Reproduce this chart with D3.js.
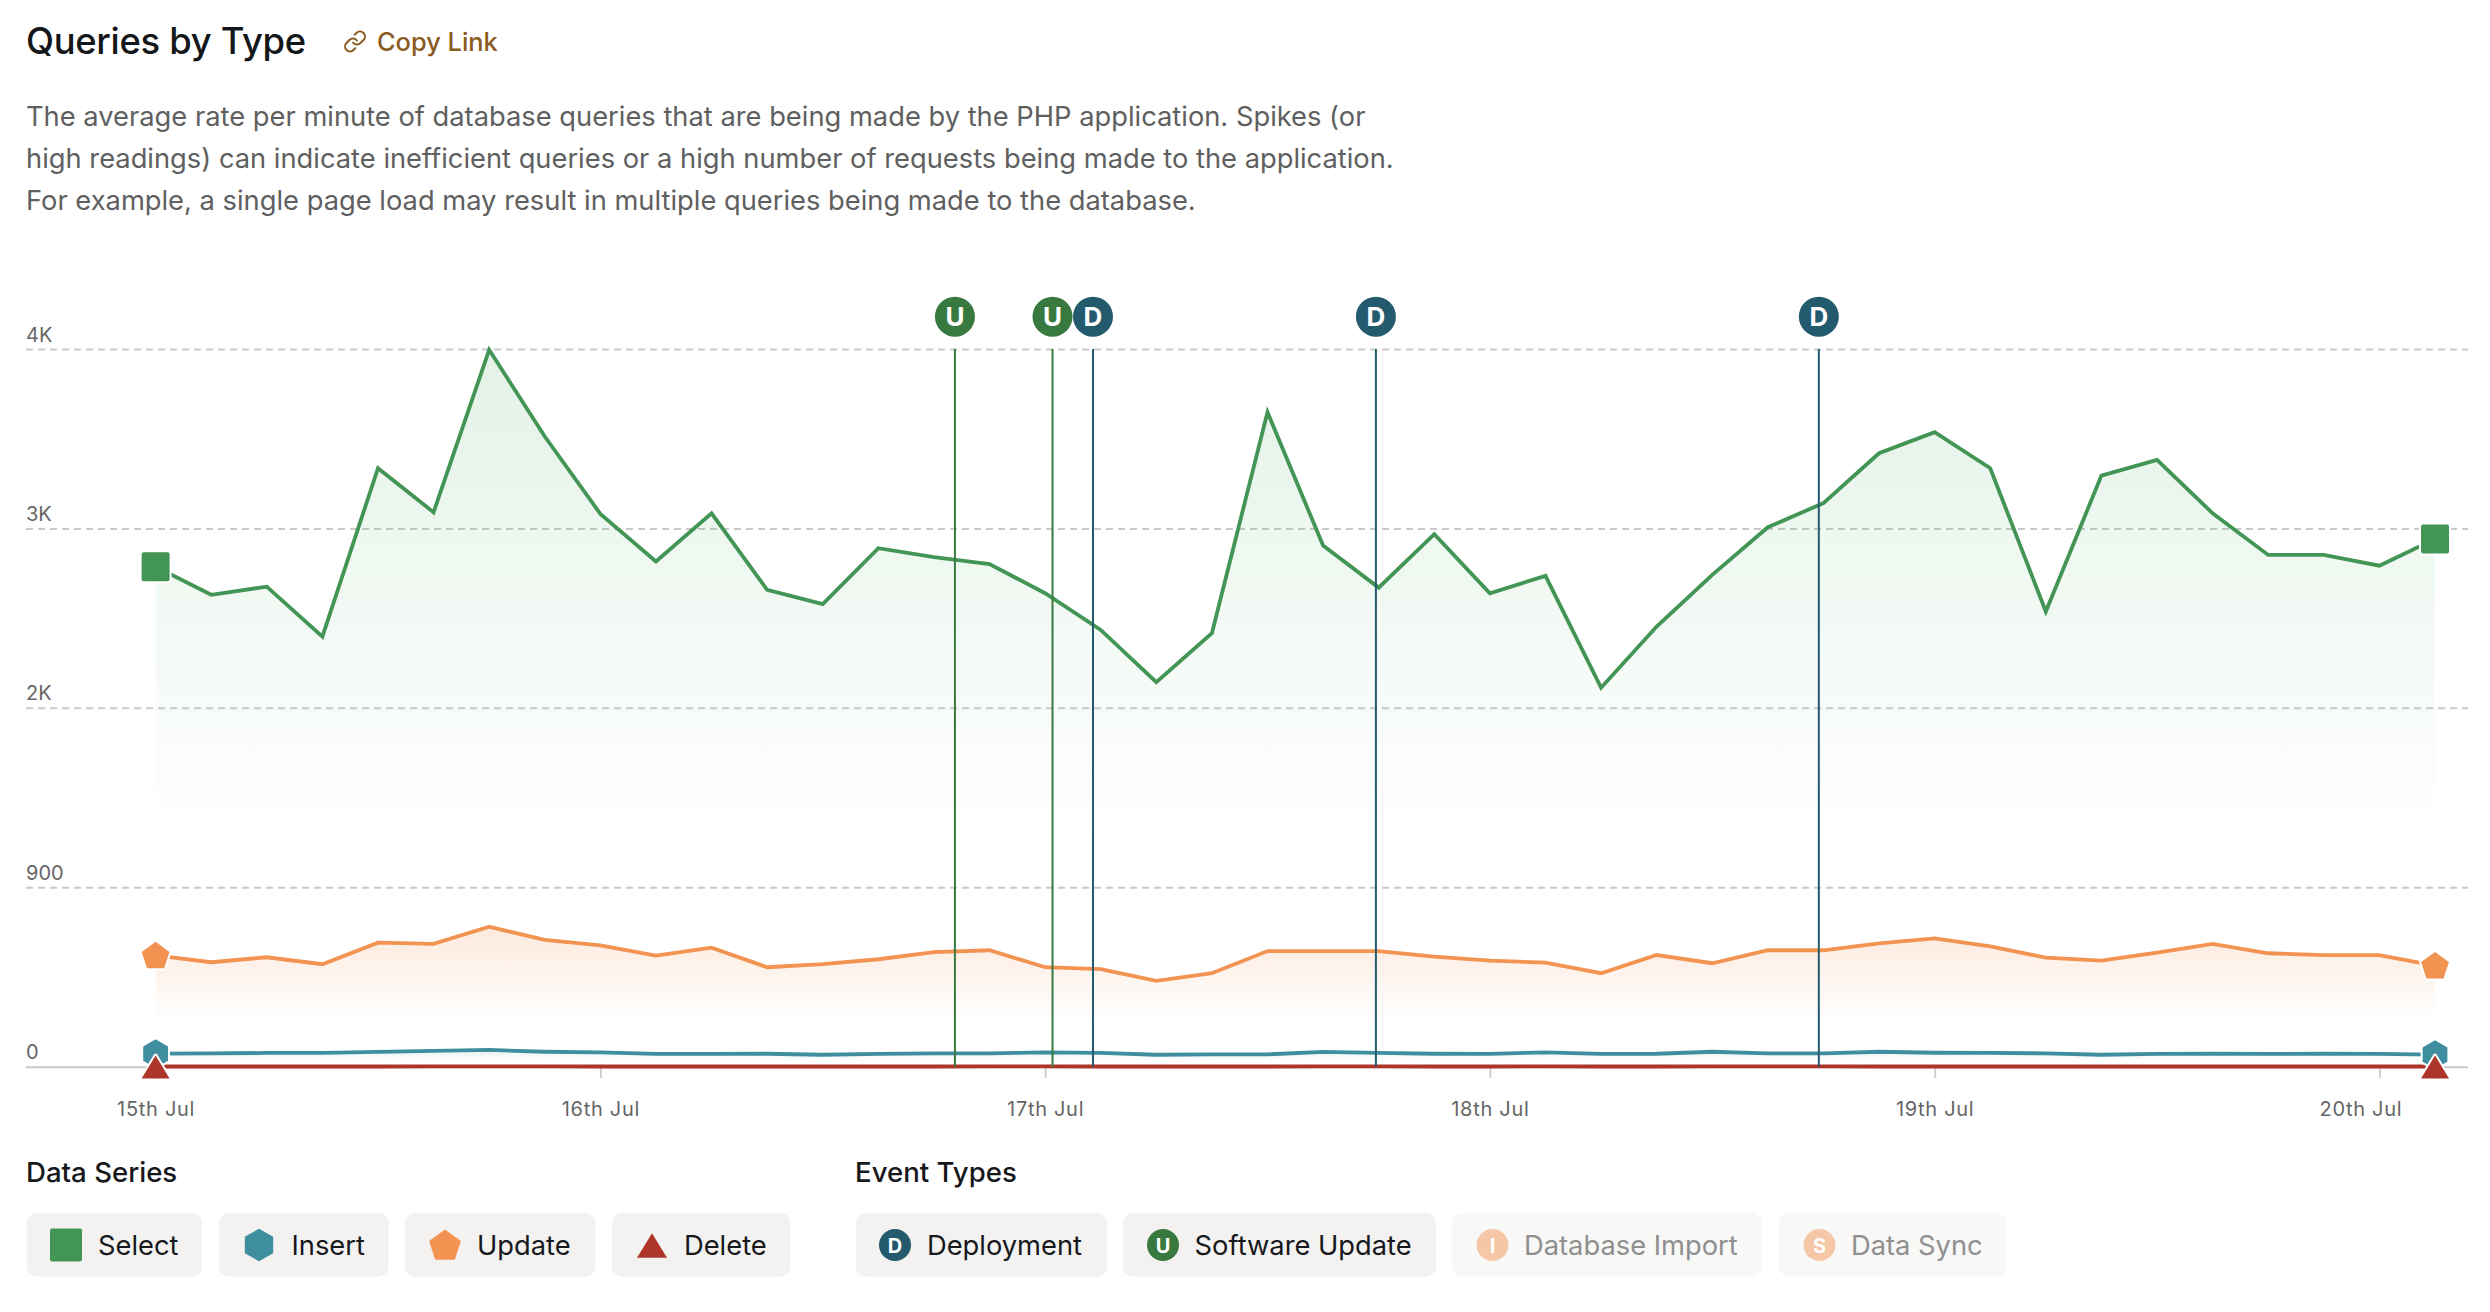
<!DOCTYPE html>
<html><head><meta charset="utf-8">
<script src="https://cdn.jsdelivr.net/npm/d3@7"></script>
<style>
html,body{margin:0;padding:0;background:#fff}
svg{display:block}
text{font-family:Inter,"Noto Sans",sans-serif}
</style></head>
<body>
<svg id="c" width="2490" height="1312"></svg>
<script>
const startTime = "2024-07-15T00:00:00Z";
const stepHours = 3;
const selectValues = [2508,2367,2408,2157,3002,2781,3596,3161,2773,2534,2776,2392,2320,2601,2556,2521,2375,2191,1929,2174,3283,2614,2403,2671,2375,2462,1901,2208,2467,2706,2827,3077,3183,3002,2283,2965,3044,2776,2567,2567,2513,2647];
const insertValues = [66,67,69,69,74,79,84,75,72,64,64,65,60,64,67,67,72,69,60,62,62,74,69,65,64,72,64,65,75,67,67,75,70,69,67,60,64,65,64,65,64,61];
const updateValues = [558,524,549,514,622,616,702,636,609,557,597,499,515,539,575,584,499,489,431,469,580,580,580,552,532,522,469,560,519,584,584,619,644,603,547,532,572,616,569,560,560,507];
const deleteValues = [1,1,1,1,1,2,2,2,1,1,1,1,1,1,1,2,2,1,1,1,1,2,2,1,1,2,1,1,2,2,2,1,1,1,1,1,1,1,1,1,1,1];
const yTicks = [0,900,1800,2700,3600];
const yTickLabels = ["0","900","2K","3K","4K"];
const xTickDays = ["2024-07-15","2024-07-16","2024-07-17","2024-07-18","2024-07-19","2024-07-20"];
const xTickLabels = ["15th Jul","16th Jul","17th Jul","18th Jul","19th Jul","20th Jul"];
const eventTimes = ["2024-07-16T19:08:00Z","2024-07-17T00:24:00Z","2024-07-17T02:35:00Z","2024-07-17T17:51:00Z","2024-07-18T17:45:00Z"];
const eventKinds = ["U","U","D","D","D"];
const seriesNames = ["Select","Insert","Update","Delete"];
const eventTypeNames = ["Deployment","Software Update","Database Import","Data Sync"];
const paragraphLines = [
 "The average rate per minute of database queries that are being made by the PHP application. Spikes (or",
 "high readings) can indicate inefficient queries or a high number of requests being made to the application.",
 "For example, a single page load may result in multiple queries being made to the database."];

const GREEN="#439556",TEAL="#3f8ea0",ORANGE="#f29352",RED="#ae352a",DGREEN="#38793f",DBLUE="#245a6e";
const svg=d3.select("#c");
const dates=selectValues.map((_,i)=>new Date(+new Date(startTime)+i*stepHours*3600e3));
const x=d3.scaleUtc().domain([dates[0],dates[dates.length-1]]).range([155.6,2435]);
const y=d3.scaleLinear().domain([0,3600]).range([1066.7,349]);

// header
svg.append("text").attr("x",26).attr("y",54).attr("font-size",36.4).attr("font-weight",500).attr("fill","#14171a").attr("letter-spacing","-0.3").text("Queries by Type");
const icon=svg.append("g").attr("transform","translate(343,29.5) scale(1)").attr("fill","none").attr("stroke","#8a5a1e").attr("stroke-width",2).attr("stroke-linecap","round").attr("stroke-linejoin","round");
icon.append("path").attr("d","M10 13a5 5 0 0 0 7.54.54l3-3a5 5 0 0 0-7.07-7.07l-1.72 1.71");
icon.append("path").attr("d","M14 11a5 5 0 0 0-7.54-.54l-3 3a5 5 0 0 0 7.07 7.07l1.71-1.71");
svg.append("text").attr("x",377).attr("y",51).attr("font-size",25.4).attr("font-weight",500).attr("fill","#8a5a1e").text("Copy Link");
svg.selectAll("text.p").data(paragraphLines).join("text").attr("class","p").attr("x",26).attr("y",(d,i)=>126+i*42).attr("font-size",27.3).attr("fill","#605f5f").text(d=>d);

// gradients
const defs=svg.append("defs");
[["g0","#44a85f",.15],["g1",TEAL,.12],["g2",ORANGE,.2],["g3",RED,.1]].forEach(([id,c,o])=>{
  const g=defs.append("linearGradient").attr("id",id).attr("x1",0).attr("x2",0).attr("y1",0).attr("y2",1);
  g.append("stop").attr("offset",0).attr("stop-color",c).attr("stop-opacity",o);
  g.append("stop").attr("offset",.68).attr("stop-color",c).attr("stop-opacity",0);
});

// y axis / grid
const yAxis=d3.axisRight(y).tickValues(yTicks).tickSize(2442).tickFormat((d,i)=>yTickLabels[i]);
const gy=svg.append("g").attr("transform","translate(26,0)").call(yAxis);
gy.select(".domain").remove();
gy.selectAll("line").attr("stroke","#c9c9c9").attr("stroke-width",2).attr("stroke-dasharray",d=>d===0?null:"7 5");
gy.selectAll("text").attr("x",0).attr("dy",0).attr("y",-8).attr("text-anchor","start").attr("font-size",20).attr("fill","#666").style("font-family","Inter");

// x axis
const xAxis=d3.axisBottom(x).tickValues(xTickDays.map(d=>new Date(d+"T00:00:00Z"))).tickSize(11).tickFormat((d,i)=>xTickLabels[i]);
const gx=svg.append("g").attr("transform","translate(0,1067)").call(xAxis);
gx.select(".domain").remove();
gx.selectAll("line").attr("stroke","#cfcfcf").attr("stroke-width",2);
gx.selectAll("text").attr("y",0).attr("dy",49).attr("font-size",20).attr("letter-spacing","0.7").attr("fill","#666").style("font-family","Inter")
  .attr("dx",(d,i)=>i===xTickLabels.length-1?-19:0);

// series
const seriesData=[selectValues,updateValues,insertValues,deleteValues];
const colors=[GREEN,ORANGE,TEAL,RED];
const grads=["g0","g2","g1","g3"];
const area=d3.area().x((d,i)=>x(dates[i])).y0(y(0)).y1(d=>y(d));
const line=d3.line().x((d,i)=>x(dates[i])).y(d=>y(d));
seriesData.forEach((v,k)=>{
  svg.append("path").datum(v).attr("d",area).attr("fill",`url(#${grads[k]})`);
});
seriesData.forEach((v,k)=>{
  svg.append("path").datum(v).attr("d",line).attr("fill","none").attr("stroke",colors[k]).attr("stroke-width",3.8).attr("stroke-linejoin","miter");
});

// events
const ev=svg.append("g");
eventTimes.forEach((t,i)=>{
  const ex=x(new Date(t)),c=eventKinds[i]==="U"?DGREEN:DBLUE;
  ev.append("line").attr("x1",ex).attr("x2",ex).attr("y1",y(3600)).attr("y2",y(0)).attr("stroke",c).attr("stroke-width",2);
  ev.append("circle").attr("cx",ex).attr("cy",316.7).attr("r",20).attr("fill",c);
  ev.append("text").attr("x",ex).attr("y",326).attr("text-anchor","middle").attr("font-size",26).attr("font-weight",700).attr("fill","#fff").text(eventKinds[i]);
});

// marker shapes (centred on 0,0)
function poly(n,r,rot){return d3.range(n).map(i=>{const a=rot+i*2*Math.PI/n;return [r*Math.sin(a),-r*Math.cos(a)];});}
function drawMarker(g,kind,cx,cy,s,fill,outline){
  const f=s/28;let el;
  if(kind==="Select"){
    el=g.append("rect").attr("x",cx-14*f).attr("y",cy-14.5*f).attr("width",28*f).attr("height",29*f).attr("rx",2);
  } else {
    let pts;
    if(kind==="Insert") pts=poly(6,14.3,0);
    if(kind==="Update") pts=poly(5,14.6,0).map(p=>[p[0],p[1]+1]);
    if(kind==="Delete") pts=[[0,-11],[14,12],[-14,12]];
    el=g.append("path").attr("d","M"+pts.map(p=>[cx+p[0]*f,cy+p[1]*f].join(",")).join("L")+"Z");
  }
  el.attr("fill",fill);
  if(outline) el.attr("stroke","#fff").attr("stroke-width",4).attr("paint-order","stroke").attr("stroke-linejoin","round");
}
const mk=svg.append("g");
[["Select",selectValues,GREEN],["Update",updateValues,ORANGE],["Insert",insertValues,TEAL],["Delete",deleteValues,RED]].forEach(([n,v,c])=>{
  [0,v.length-1].forEach(i=>drawMarker(mk,n,x(dates[i]),y(v[i]),28,c,true));
});

// legend
const head=(t,hx)=>svg.append("text").attr("x",hx).attr("y",1182).attr("font-size",27.6).attr("font-weight",500).attr("fill","#16181b").text(t);
head("Data Series",26);head("Event Types",855);
const chip=(x0,x1,fill)=>svg.append("rect").attr("x",x0).attr("y",1212.7).attr("width",x1-x0).attr("height",64).attr("rx",10).attr("fill",fill);
const labelAt=(t,lx,c)=>svg.append("text").attr("x",lx).attr("y",1255).attr("font-size",27.3).attr("fill",c).text(t);
const seriesChips=[[26.8,202,66,98,GREEN],[219,388.5,259,291.5,TEAL],[405,595.5,445,477,ORANGE],[612,790.4,652,684,RED]];
seriesNames.forEach((n,i)=>{
  const [a,b,ic,tx,c]=seriesChips[i];
  chip(a,b,"#f3f2f1");
  drawMarker(svg,n,ic,1245,n==="Delete"?30:32,c,false);
  labelAt(n,tx,"#16181b");
});
const eventChips=[[856,1107,895,927,DBLUE,"D",1],[1123,1436,1163,1194.6,DGREEN,"U",1],[1452,1762,1492.5,1524,"#f5c7a7","I",0],[1779,2006,1819.5,1851,"#f5c7a7","S",0]];
eventTypeNames.forEach((n,i)=>{
  const [a,b,ic,tx,c,l,on]=eventChips[i];
  chip(a,b,on?"#f3f2f1":"#f8f8f7");
  svg.append("circle").attr("cx",ic).attr("cy",1245).attr("r",16).attr("fill",c);
  svg.append("text").attr("x",ic).attr("y",1252.5).attr("text-anchor","middle").attr("font-size",20).attr("font-weight",700).attr("fill","#fff").text(l);
  labelAt(n,tx,on?"#16181b":"#8f8f8f");
});
</script>
</body></html>
